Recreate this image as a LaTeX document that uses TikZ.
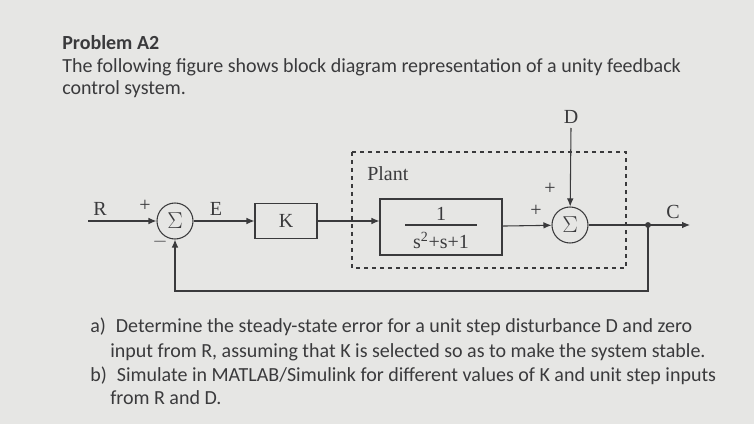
\documentclass[tikz,border=0pt]{standalone}
\usepackage{fontspec}
\setmainfont{Carlito}
\newfontfamily\tms{Liberation Serif}
\usetikzlibrary{arrows.meta}
\definecolor{bg}{HTML}{E6E6E4}
\definecolor{ink}{HTML}{3A3A3C}
\begin{document}
\begin{tikzpicture}[x=0.75pt,y=-0.75pt,
  txt/.style={anchor=base west,inner sep=0,text=ink,font=\fontsize{15}{17}\selectfont},
  dg/.style={text=ink,font=\tms\fontsize{15}{17}\selectfont,inner sep=0},
  sumnode/.style={circle,draw=ink,thick,minimum size=27pt,inner sep=0,font=\tms\fontsize{16}{17}\selectfont,text=ink},
  blk/.style={draw=ink,thick,inner sep=0},
  sig/.style={draw=ink,thick,-{Latex[length=6pt,width=5pt]}},
  ln/.style={draw=ink,thick}]
\fill[bg] (0,0) rectangle (754,424);
\useasboundingbox (0,0) rectangle (754,424);
\node[txt,font=\bfseries\fontsize{15}{17}\selectfont] (t0) at (62,50) {Problem A2};
\node[txt] (t1) at (62,73) {The following figure shows block diagram representation of a unity feedback};
\node[txt] (t2) at (62,95) {control system.};
\node[txt] (a1) at (90,333) {a)\enspace Determine the steady-state error for a unit step disturbance D and zero};
\node[txt] (a2) at (110,357) {input from R, assuming that K is selected so as to make the system stable.};
\node[txt] (b1) at (90,381) {b)\enspace Simulate in MATLAB/Simulink for different values of K and unit step inputs};
\node[txt] (b2) at (110,404) {from R and D.};
% diagram
\draw[ink,dashed,thick] (352,152) rectangle (626,268);
\node[dg,anchor=west] (plant) at (367,174) {Plant};
\node[sumnode] (s1) at (175,221) {$\Sigma$};
\node[blk,minimum width=46.5pt,minimum height=26pt] (k) at (286,221) {};
\node[dg] (kl) at (286,221) {K};
\node[blk,minimum width=91.5pt,minimum height=42pt] (g) at (441,227) {};
\node[dg] (num) at (441,214) {1};
\draw[ink,thick] (405,225) -- (477,225);
\node[dg] (den) at (441,240) {s\textsuperscript{2}+s+1};
\node[sumnode] (s2) at (570,225) {$\Sigma$};
\node[dg] (R) at (100,209) {R};
\node[dg] (E) at (216,209) {E};
\node[dg] (D) at (571,117) {D};
\node[dg] (C) at (673,212) {C};
\node[dg] (p1) at (145,206) {+};
\node[dg] (p2) at (160,242) {$-$};
\node[dg] (p3) at (550,189) {+};
\node[dg] (p4) at (536,211) {+};
\coordinate (rin) at (88,221);
\coordinate (dtop) at (571,128);
\coordinate (br) at (648,225);
\coordinate (cout) at (690,225);
\coordinate (fb) at (648,291);
\draw[sig] (rin) -- (s1);
\draw[sig] (s1) -- (k);
\draw[sig] (k.east) -- (k.east -| g.west);
\draw[sig] (g) -- (s2);
\draw[sig] (dtop) -- (s2);
\draw[sig] (s2) -- (cout);
\fill[ink] (br) circle (2.2pt);
\draw[sig] (br) -- (fb) -- (fb -| s1) -- (s1);
\end{tikzpicture}
\end{document}
